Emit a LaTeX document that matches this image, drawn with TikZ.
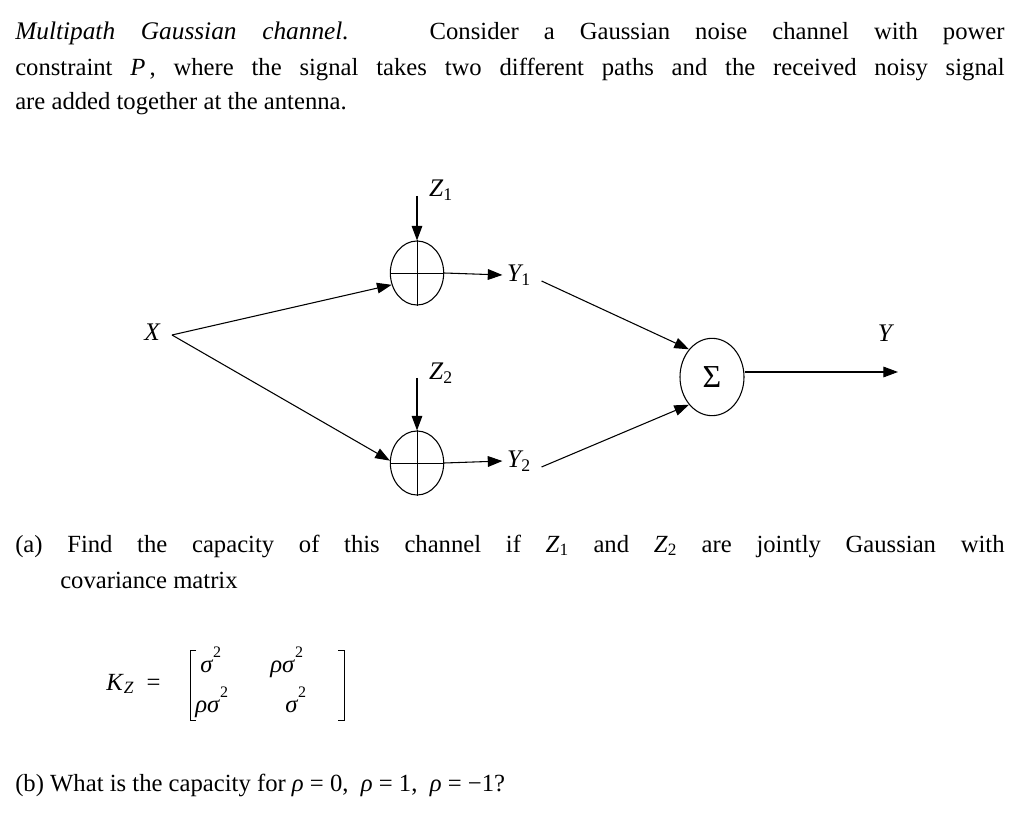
\documentclass[tikz,border=0pt]{standalone}
\usepackage{fontspec}
\setmainfont{Liberation Serif}
\usetikzlibrary{arrows.meta,shapes.geometric}
\newcommand{\sq}{\raisebox{0.6em}{\fontsize{12}{12}\selectfont\upshape 2}}
\begin{document}
\begin{tikzpicture}[x=0.75pt,y=-0.75pt,
  lbl/.style={font=\fontsize{19}{22}\selectfont\itshape},
  txt/.style={anchor=base west,inner sep=0pt,font=\fontsize{18.5}{22}\selectfont},
  adder/.style={ellipse,draw,thick,minimum width=40,minimum height=48,inner sep=0pt},
  ar/.style={thick,-{Triangle[length=11pt,width=8pt]}},
  brk/.style={thin}]
\useasboundingbox (0,0) rectangle (1024,830);
% text
\node[txt] (t1) at (15,40) {\makebox[742pt][s]{{\fontsize{19}{22}\selectfont\itshape Multipath Gaussian channel.}\hspace{12pt} Consider a Gaussian noise channel with power}};
\node[txt] (t2) at (15,76) {\makebox[742pt][s]{constraint \textit{P}\,, where the signal takes two different paths and the received noisy signal}};
\node[txt] (t3) at (15,110) {are added together at the antenna.};
\node[txt] (ta) at (15,552) {\makebox[742pt][s]{(a) Find the capacity of this channel if \textit{Z}\textsubscript{1} and \textit{Z}\textsubscript{2} are jointly Gaussian with}};
\node[txt] (ta2) at (60,588) {covariance matrix};
\node[txt] (kz) at (106,690) {\textit{K}\textsubscript{\textit{Z}} \ =};
\node[txt] (m11) at (200,672) {\textit{σ}\sq};
\node[txt] (m12) at (270,672) {\textit{ρσ}\sq};
\node[txt] (m21) at (195,712) {\textit{ρσ}\sq};
\node[txt] (m22) at (285,712) {\textit{σ}\sq};
\draw[brk] (196,650)--(190,650)--(190,720)--(196,720);
\draw[brk] (338,650)--(344,650)--(344,720)--(338,720);
\node[txt] (tb) at (15,791) {(b) What is the capacity for \textit{ρ} = 0, \ \textit{ρ} = 1, \ \textit{ρ} = −1?};
% diagram
\coordinate (X) at (172,335);
\node[lbl] (xl) at (152,332) {X};
\node[adder] (A1) at (417,273) {};
\node[adder] (A2) at (417,463) {};
\draw[thin] (A1.north)--(A1.south) (A1.west)--(A1.east);
\draw[thin] (A2.north)--(A2.south) (A2.west)--(A2.east);
\coordinate (z1s) at (417,196);
\coordinate (z2s) at (417,378);
\node[lbl] (z1) at (441,190) {Z\textsubscript{\upshape 1}};
\node[lbl] (z2) at (441,373) {Z\textsubscript{\upshape 2}};
\draw[ar] (z1s)--(A1.north);
\draw[ar] (z2s)--(A2.north);
\draw[ar] (X)--(A1.205);
\draw[ar] (X)--(A2.175);
\node[lbl] (y1) at (519,275) {Y\textsubscript{\upshape 1}};
\node[lbl] (y2) at (519,461) {Y\textsubscript{\upshape 2}};
\draw[ar] (A1.east)--(y1.west);
\draw[ar] (A2.east)--(y2.west);
\node[ellipse,draw,thick,minimum width=48,minimum height=58,inner sep=0pt,font=\fontsize{24}{26}\selectfont] (S) at (712,377) {Σ};
\draw[ar] (y1.east)++(6,6) coordinate (y1e) (y1e)--(S.north west);
\draw[ar] (y2.east)++(6,6) coordinate (y2e) (y2e)--(S.south west);
\coordinate (yo) at (898,372);
\node[lbl] (yl) at (885,333) {Y};
\draw[ar] (S.east|-yo)--(yo);
\end{tikzpicture}
\end{document}
